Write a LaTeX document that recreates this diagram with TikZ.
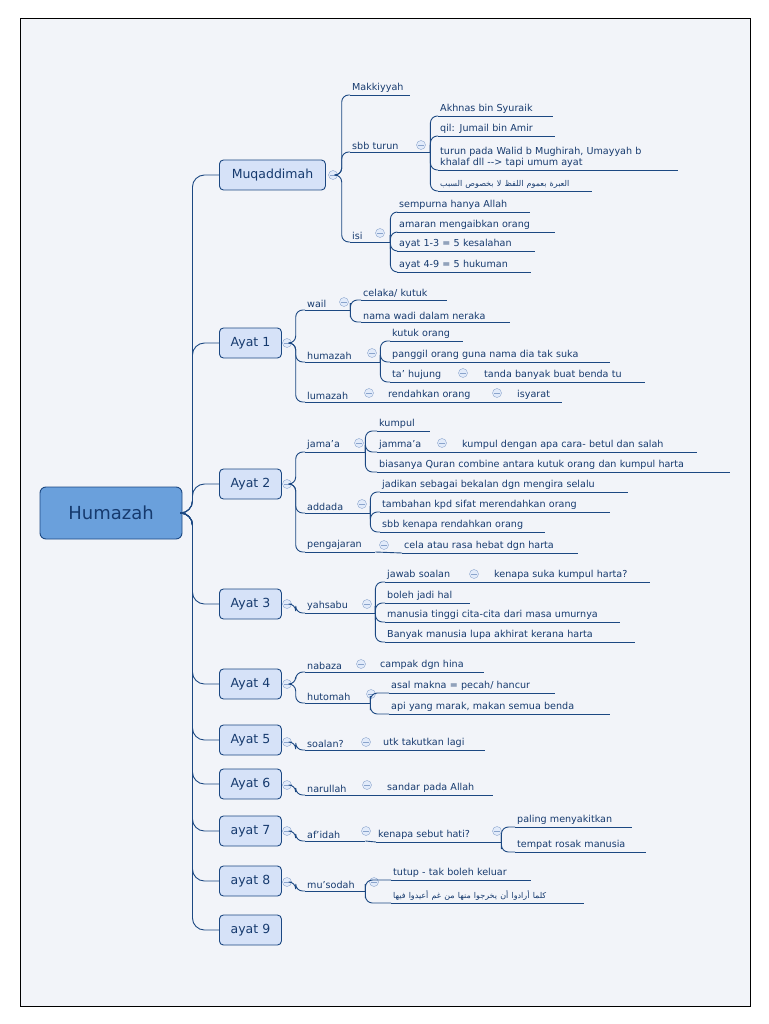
\documentclass[tikz,border=0pt]{standalone}
\usepackage{fontspec}
\setmainfont{DejaVu Sans}
\newfontfamily\arabfont[Script=Arabic]{DejaVu Sans}
\usetikzlibrary{positioning}
\definecolor{inkblue}{RGB}{22,58,110}
\definecolor{lineblue}{RGB}{28,72,130}
\definecolor{boxfill}{RGB}{214,226,248}
\definecolor{rootfill}{RGB}{106,160,220}
\definecolor{paper}{RGB}{242,244,249}
\definecolor{knob}{RGB}{138,164,204}
\newcommand{\arab}[1]{{\arabfont\fontsize{8}{9}\selectfont\TeXXeTstate=1\beginR #1\endR}}
% leaf: name, x, y (underline), width, text
\newcommand{\leaf}[5]{\node[leaf, text width=\dimexpr#4pt-4pt\relax] (#1) at (#2,#3) {#5};}
\newcommand{\knob}[3]{\node[knob] (#1) at (#2,#3) {};\draw[knobbar] ([xshift=2pt]#1.west) -- ([xshift=-2pt]#1.east);}
\tikzset{
  conn/.style={draw=lineblue, line width=0.9pt, rounded corners=7pt},
  leaf/.style={anchor=south west, inner sep=2pt, align=left, text=inkblue,
    font=\fontsize{9.6}{11}\selectfont,
    append after command={(\tikzlastnode.south west) edge[draw=lineblue, line width=0.9pt] (\tikzlastnode.south east)}},
  topic/.style={draw=lineblue, fill=boxfill, rounded corners=4pt, line width=0.9pt, anchor=west,
    minimum height=30pt, minimum width=62pt, inner xsep=5pt, text=inkblue, font=\fontsize{12.5}{14}\selectfont, align=left},
  knob/.style={circle, draw=knob, fill=boxfill!70, inner sep=0pt, minimum size=9pt},
  knobbar/.style={draw=knob, line width=0.7pt},
}
\begin{document}
\begin{tikzpicture}[x=1pt,y=-1pt]
\useasboundingbox (0,0) rectangle (768,1024);
\draw[fill=paper] (20,18) rectangle (750,1006);

% root
\node[draw=lineblue, fill=rootfill, rounded corners=6pt, line width=0.9pt, minimum width=142pt, minimum height=52pt,
  text=inkblue, font=\fontsize{18}{21}\selectfont] (root) at (111,513) {Humazah};

% main topics
\node[topic, minimum width=106pt] (muq) at (219,175) {Muqaddimah};
\node[topic] (a1) at (219,343) {Ayat 1};
\node[topic] (a2) at (219,484) {Ayat 2};
\node[topic] (a3) at (219,604) {Ayat 3};
\node[topic] (a4) at (219,684) {Ayat 4};
\node[topic] (a5) at (219,740) {Ayat 5};
\node[topic] (a6) at (219,784) {Ayat 6};
\node[topic] (a7) at (219,831) {ayat 7};
\node[topic] (a8) at (219,881) {ayat 8};
\node[topic] (a9) at (219,930) {ayat 9};
\foreach \t in {muq,a1,a2,a3,a4,a5,a6,a7,a8,a9}
  \draw[conn, rounded corners=12pt] (root.east) -- ++(10,0) |- (\t.west);

% Muqaddimah
\knob{kmuq}{333}{175}
\leaf{makk}{350}{95}{60}{Makkiyyah}
\leaf{sbb}{350}{152}{80}{sbb turun}
\leaf{isi}{350}{242}{40}{isi}
\foreach \c in {makk,sbb,isi} \draw[conn] (kmuq.east) -- ++(4,0) |- (\c.south west);
\knob{ksbb}{421}{145}
\leaf{akh}{438}{116}{115}{Akhnas bin Syuraik}
\leaf{qil}{438}{136}{117}{qil: Jumail bin Amir}
\leaf{wal}{438}{170}{240}{turun pada Walid b Mughirah, Umayyah b\\khalaf dll -{}-> tapi umum ayat}
\leaf{ibr}{438}{191}{154}{\arab{العبرة بعموم اللفظ لا بخصوص السبب}}
\foreach \c in {akh,qil,wal,ibr} \draw[conn] (sbb.south east) -- ++(0,0) |- (\c.south west);
\knob{kisi}{380}{233}
\leaf{semp}{397}{212}{133}{sempurna hanya Allah}
\leaf{amar}{397}{232}{158}{amaran mengaibkan orang}
\leaf{ay13}{397}{251}{138}{ayat 1-3 = 5 kesalahan}
\leaf{ay49}{397}{272}{134}{ayat 4-9 = 5 hukuman}
\foreach \c in {semp,amar,ay13,ay49} \draw[conn] (isi.south east) -- ++(0,0) |- (\c.south west);

% Ayat 1
\knob{ka1}{287}{343}
\leaf{wail}{305}{310}{45}{wail}
\leaf{huma}{305}{362}{75}{humazah}
\leaf{luma}{305}{402}{75}{lumazah}
\foreach \c in {wail,huma,luma} \draw[conn] (ka1.east) -- ++(4,0) |- (\c.south west);
\knob{kwail}{344}{302}
\leaf{cel}{361}{300}{86}{celaka/ kutuk}
\leaf{wadi}{361}{322}{149}{nama wadi dalam neraka}
\foreach \c in {cel,wadi} \draw[conn] (wail.south east) -- ++(0,0) |- (\c.south west);
\knob{khuma}{372}{353}
\leaf{kut}{390}{341}{73}{kutuk orang}
\leaf{pang}{390}{362}{220}{panggil orang guna nama dia tak suka}
\leaf{taa}{390}{382}{90}{ta' hujung}
\foreach \c in {kut,pang,taa} \draw[conn] (huma.south east) -- ++(0,0) |- (\c.south west);
\knob{ktaa}{463}{373}
\leaf{tanda}{482}{382}{163}{tanda banyak buat benda tu}
\draw[conn] (taa.south east) -- (tanda.south west);
\knob{kluma}{369}{393}
\leaf{rend}{386}{402}{120}{rendahkan orang}
\draw[conn] (luma.south east) -- (rend.south west);
\knob{krend}{497}{393}
\leaf{isy}{515}{402}{47}{isyarat}
\draw[conn] (rend.south east) -- (isy.south west);

% Ayat 2
\knob{ka2}{287}{484}
\leaf{jama}{305}{452}{60}{jama'a}
\leaf{adda}{305}{513}{65}{addada}
\leaf{peng}{305}{552}{70}{pengajaran}
\foreach \c in {jama,adda,peng} \draw[conn] (ka2.east) -- ++(4,0) |- (\c.south west);
\knob{kjama}{359}{443}
\leaf{kump}{377}{431}{53}{kumpul}
\leaf{jamm}{377}{452}{78}{jamma'a}
\leaf{bias}{377}{472}{353}{biasanya Quran combine antara kutuk orang dan kumpul harta}
\foreach \c in {kump,jamm,bias} \draw[conn] (jama.south east) -- ++(0,0) |- (\c.south west);
\knob{kjamm}{442}{443}
\leaf{kdg}{460}{452}{237}{kumpul dengan apa cara- betul dan salah}
\draw[conn] (jamm.south east) -- (kdg.south west);
\knob{kadda}{362}{504}
\leaf{jadi}{380}{492}{248}{jadikan sebagai bekalan dgn mengira selalu}
\leaf{tamb}{380}{512}{230}{tambahan kpd sifat merendahkan orang}
\leaf{sbbk}{380}{532}{165}{sbb kenapa rendahkan orang}
\foreach \c in {jadi,tamb,sbbk} \draw[conn] (adda.south east) -- ++(0,0) |- (\c.south west);
\knob{kpeng}{384}{545}
\leaf{cela}{402}{553}{176}{cela atau rasa hebat dgn harta}
\draw[conn] (peng.south east) -- (cela.south west);

% Ayat 3
\knob{ka3}{287}{604}
\leaf{yahs}{305}{613}{70}{yahsabu}
\draw[conn] (ka3.east) -- ++(4,0) |- (yahs.south west);
\knob{kyahs}{367}{604}
\leaf{jaw}{385}{582}{80}{jawab soalan}
\leaf{bol}{385}{603}{85}{boleh jadi hal}
\leaf{man}{385}{622}{235}{manusia tinggi cita-cita dari masa umurnya}
\leaf{bany}{385}{642}{250}{Banyak manusia lupa akhirat kerana harta}
\foreach \c in {jaw,bol,man,bany} \draw[conn] (yahs.south east) -- ++(0,0) |- (\c.south west);
\knob{kjaw}{474}{574}
\leaf{kena}{492}{582}{158}{kenapa suka kumpul harta?}
\draw[conn] (jaw.south east) -- (kena.south west);

% Ayat 4
\knob{ka4}{287}{684}
\leaf{naba}{305}{672}{45}{nabaza}
\leaf{huto}{305}{703}{65}{hutomah}
\foreach \c in {naba,huto} \draw[conn] (ka4.east) -- ++(4,0) |- (\c.south west);
\knob{knaba}{361}{664}
\leaf{camp}{378}{672}{106}{campak dgn hina}
\draw[conn] (naba.south east) -- (camp.south west);
\knob{khuto}{371}{694}
\leaf{asal}{389}{693}{166}{asal makna = pecah/ hancur}
\leaf{api}{389}{714}{221}{api yang marak, makan semua benda}
\foreach \c in {asal,api} \draw[conn] (huto.south east) -- ++(0,0) |- (\c.south west);

% Ayat 5 - 8
\knob{ka5}{287}{742}
\leaf{soal}{305}{750}{60}{soalan?}
\draw[conn] (ka5.east) -- ++(4,0) |- (soal.south west);
\knob{ksoal}{366}{742}
\leaf{utk}{381}{750}{104}{utk takutkan lagi}
\draw[conn] (soal.south east) -- (utk.south west);

\knob{ka6}{287}{785}
\leaf{naru}{305}{795}{55}{narullah}
\draw[conn] (ka6.east) -- ++(4,0) |- (naru.south west);
\knob{knaru}{367}{785}
\leaf{sand}{385}{795}{108}{sandar pada Allah}
\draw[conn] (naru.south east) -- (sand.south west);

\knob{ka7}{287}{831}
\leaf{afid}{305}{841}{60}{af'idah}
\draw[conn] (ka7.east) -- ++(4,0) |- (afid.south west);
\knob{kafid}{366}{831}
\leaf{keh}{376}{842}{125}{kenapa sebut hati?}
\draw[conn] (afid.south east) -- (keh.south west);
\knob{kkeh}{497}{831}
\leaf{pal}{515}{827}{117}{paling menyakitkan}
\leaf{temp}{515}{852}{131}{tempat rosak manusia}
\foreach \c in {pal,temp} \draw[conn] (keh.south east) -- ++(0,0) |- (\c.south west);

\knob{ka8}{287}{882}
\leaf{muso}{305}{891}{60}{mu'sodah}
\draw[conn] (ka8.east) -- ++(4,0) |- (muso.south west);
\knob{kmuso}{374}{882}
\leaf{tut}{391}{880}{140}{tutup - tak boleh keluar}
\leaf{kull}{391}{903}{193}{\arab{كلما أرادوا أن يخرجوا منها من غم أعيدوا فيها}}
\foreach \c in {tut,kull} \draw[conn] (muso.south east) -- ++(0,0) |- (\c.south west);
\end{tikzpicture}
\end{document}
